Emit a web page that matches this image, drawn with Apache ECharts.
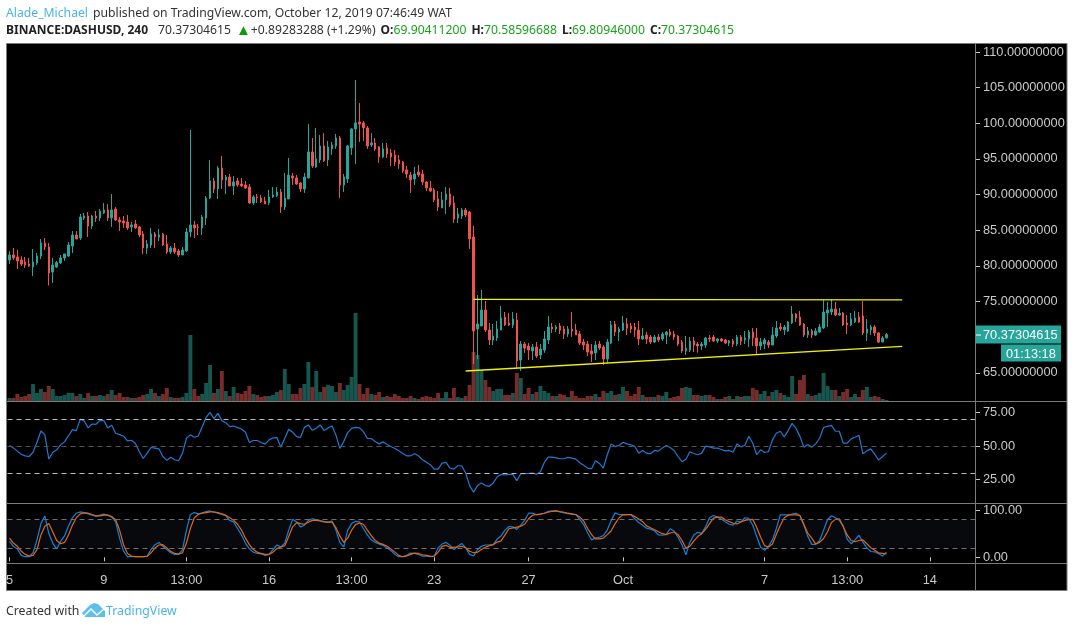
<!DOCTYPE html>
<html>
<head>
<meta charset="utf-8">
<title>DASHUSD</title>
<script src="https://cdn.jsdelivr.net/npm/echarts@6/dist/echarts.min.js"></script>
<style>
  html, body { margin: 0; padding: 0; background: #fff; }
  #chart { width: 1073px; height: 628px; }
</style>
</head>
<body>
<div id="chart"></div>
<script>
// open, close, low, high per 4h candle
const candles = [
  [80.83,81.53,80.27,82.04],[81.53,81.11,80.83,82.51],[81.25,80.69,79.57,82.23],[80.83,80.27,79.99,81.34],[80.55,80.13,79.71,81.25],
  [80.27,79.99,79.85,81.11],[79.85,80.55,78.58,82.37],[80.41,81.39,80.13,81.81],[81.39,83.21,80.97,83.77],[83.21,82.65,82.23,83.91],
  [82.65,79.00,77.23,83.21],[79.14,80.13,77.60,81.11],[79.85,80.46,79.71,80.69],[80.41,81.11,80.27,81.53],[81.11,81.67,80.69,81.67],
  [81.39,82.93,81.25,83.35],[82.79,84.33,81.81,84.89],[84.33,83.77,83.77,84.89],[83.91,86.86,83.63,87.28],[86.72,87.00,86.44,87.42],
  [87.00,85.60,84.05,87.56],[85.60,87.00,85.18,87.14],[87.00,86.72,86.16,87.70],[86.72,87.70,86.30,87.98],[87.42,87.84,87.28,88.82],
  [87.84,86.72,86.30,88.68],[86.72,87.84,85.46,90.08],[87.98,86.44,86.30,88.26],[86.44,86.16,84.89,86.86],[86.30,86.02,85.32,87.00],
  [86.16,85.32,85.03,87.14],[85.46,85.74,84.75,86.16],[85.88,85.32,85.18,86.44],[85.46,84.33,84.05,85.60],[84.47,82.51,81.67,84.89],
  [82.51,83.07,81.67,83.63],[82.93,84.47,82.51,85.32],[84.47,84.05,82.51,84.75],[84.05,84.33,83.49,85.18],[84.47,82.93,82.79,84.61],
  [83.07,81.95,81.67,84.33],[81.95,82.51,81.67,82.79],[82.51,81.95,81.67,83.21],[82.09,81.53,81.25,82.37],[81.53,82.23,81.53,82.65],
  [82.09,84.75,81.95,85.32],[84.75,85.74,84.05,99.06],[85.74,85.32,83.91,86.30],[85.46,85.41,84.33,85.88],[85.32,86.86,84.33,87.14],
  [86.72,89.52,85.74,89.80],[89.52,91.91,89.38,94.85],[91.91,90.79,90.22,92.33],[90.79,93.73,89.38,94.01],[93.73,92.05,90.79,95.41],
  [92.05,92.47,90.08,92.75],[92.47,91.21,91.21,92.89],[91.21,91.77,89.94,92.61],[91.91,91.35,91.07,92.33],[91.49,91.21,91.07,92.33],
  [91.35,90.93,90.79,91.91],[91.07,88.82,88.68,91.49],[88.83,89.67,88.55,89.95],[89.67,89.57,88.83,90.09],[89.53,88.97,88.83,89.95],
  [89.11,88.69,88.69,89.67],[88.83,89.67,88.55,90.65],[89.67,89.95,89.53,91.07],[89.81,90.37,89.67,91.07],[90.37,88.27,87.42,90.79],
  [88.27,89.53,87.84,93.03],[89.39,92.75,89.39,95.14],[92.61,92.33,91.35,93.03],[92.33,91.49,91.35,92.75],[91.63,90.79,90.37,91.77],
  [90.79,92.47,90.23,93.03],[92.33,95.98,92.33,99.91],[95.98,94.02,93.74,97.94],[93.88,95.00,93.74,99.35],[94.86,96.82,94.44,98.36],
  [96.82,94.72,94.58,98.64],[94.86,96.68,94.02,97.52],[96.40,96.96,95.56,97.38],[96.82,97.94,96.40,98.50],[97.94,91.35,89.53,98.22],
  [91.35,92.47,90.37,92.89],[92.19,96.82,91.63,96.96],[96.54,99.21,95.56,99.35],[99.21,100.05,94.28,106.08],[100.19,99.91,97.38,102.85],
  [100.05,99.35,97.52,100.33],[99.35,96.82,96.40,99.63],[96.96,97.24,96.68,98.64],[97.24,96.40,96.12,97.94],[96.68,95.28,94.44,96.82],
  [95.28,96.40,95.14,97.24],[96.54,95.70,95.14,97.24],[95.84,95.28,94.02,96.40],[95.56,94.58,94.02,96.26],[94.86,94.30,93.60,95.56],
  [94.58,93.31,93.03,94.72],[93.46,92.89,92.33,94.02],[92.75,92.05,90.23,93.17],[92.19,92.89,91.35,93.88],[93.17,92.75,92.47,94.16],
  [92.89,91.77,91.35,93.46],[91.77,90.93,90.51,91.91],[90.93,90.51,90.37,91.91],[90.65,89.25,88.97,90.93],[89.39,88.27,87.70,90.51],
  [88.13,89.25,88.13,90.37],[89.25,90.09,87.28,91.07],[90.09,88.55,88.27,90.93],[88.83,86.58,86.02,89.81],[86.72,87.28,86.02,88.13],
  [87.00,87.84,86.58,88.13],[87.84,87.14,86.86,88.13],[87.56,83.78,82.38,87.70],[84.06,70.87,66.25,85.60],[71.15,71.85,66.94,75.92],
  [71.57,73.81,71.57,76.62],[73.81,71.01,70.73,75.07],[71.01,69.61,68.90,71.99],[69.61,70.17,68.90,71.85],[69.89,71.15,69.47,72.27],
  [71.01,72.69,71.01,74.37],[72.83,71.71,71.57,73.53],[71.99,71.71,71.57,73.39],[71.71,72.55,71.29,73.53],[72.41,66.66,65.68,73.39],
  [66.80,69.04,65.26,69.47],[69.04,68.48,67.80,69.32],[68.76,68.20,66.80,69.18],[68.06,68.62,66.80,69.04],[68.62,67.36,67.08,69.32],
  [67.50,68.34,66.94,69.04],[68.20,69.75,67.80,70.87],[69.61,71.43,69.04,72.97],[71.43,71.15,70.59,71.99],[71.15,71.43,70.73,71.71],
  [71.57,71.01,70.45,71.99],[71.15,70.45,69.75,71.57],[70.45,71.15,70.03,71.57],[71.15,70.87,70.03,73.53],[71.01,70.31,70.31,71.85],
  [70.45,69.18,68.90,70.87],[69.32,68.90,68.20,69.75],[69.04,67.92,67.36,69.47],[68.06,67.64,66.52,69.04],[67.78,68.90,66.80,69.47],
  [69.04,68.48,68.20,69.47],[68.62,66.94,66.10,68.90],[66.94,69.32,66.38,69.75],[69.18,71.71,69.04,72.27],[71.85,70.73,70.17,72.27],
  [70.73,71.15,69.47,71.43],[71.01,71.99,70.87,72.97],[71.85,71.29,70.31,72.69],[71.57,71.15,70.59,71.99],[71.43,71.01,70.03,71.99],
  [71.01,69.75,68.90,72.27],[69.75,70.17,69.61,71.29],[70.31,69.75,69.04,70.73],[70.03,69.32,69.04,70.31],[69.32,70.03,69.18,70.31],
  [70.03,69.61,69.32,70.45],[69.75,70.45,69.47,70.73],[70.31,70.73,69.04,70.87],[70.73,70.31,70.03,71.15],[70.45,70.03,69.61,70.87],
  [70.17,69.04,68.76,70.31],[69.32,68.06,67.78,69.61],[68.06,68.48,67.50,70.17],[68.20,69.47,67.92,70.03],[69.47,68.90,67.92,70.03],
  [69.04,68.76,67.83,69.32],[68.76,69.04,68.20,69.32],[68.90,69.89,68.48,70.03],[69.89,69.75,69.32,70.31],[70.03,69.47,69.32,70.31],
  [69.47,69.75,69.18,69.89],[69.75,69.47,69.32,69.89],[69.61,69.18,69.04,69.75],[69.18,69.47,68.76,69.61],[69.47,69.04,68.62,69.75],
  [69.04,70.03,68.76,70.31],[70.03,69.47,68.90,70.31],[69.61,69.89,69.04,70.87],[69.75,70.73,68.62,71.01],[70.73,69.89,68.76,71.29],
  [69.89,68.76,67.50,71.29],[68.76,69.32,68.20,69.89],[69.04,69.61,68.34,69.89],[69.32,68.90,68.48,69.61],[68.90,70.31,68.90,71.43],
  [70.17,71.29,69.89,72.27],[71.43,71.15,70.87,71.99],[71.01,71.43,70.31,71.71],[70.87,72.13,70.73,72.27],[71.99,73.25,71.85,74.37],
  [73.25,72.69,72.13,73.39],[72.83,71.71,71.57,73.67],[71.85,70.31,70.03,71.99],[70.31,70.87,69.89,71.43],[70.87,70.31,69.89,71.15],
  [70.31,70.87,70.17,71.29],[70.73,71.43,70.59,71.85],[71.29,73.53,71.15,75.21],[73.39,73.81,71.43,74.93],[73.53,73.95,73.11,75.35],
  [73.95,73.11,72.97,74.93],[73.11,73.35,72.97,74.09],[73.39,71.71,71.57,73.53],[71.99,71.71,70.45,73.11],[71.71,72.55,71.57,73.39],
  [72.13,72.69,71.99,73.67],[72.83,72.13,71.99,73.53],[72.97,70.59,70.31,75.07],[70.59,71.15,69.47,72.55],[71.01,71.43,70.31,71.71],
  [71.43,70.59,70.17,71.71],[70.59,69.32,69.18,70.73],[69.32,69.89,69.32,70.17],[69.904112,70.37304615,69.80946,70.58596688]
];
// volume, relative units (no scale shown in the picture)
const volumes = [
  3,3,7,4,5,7,17,8,12,9, 15,12,5,5,6,8,8,5,7,3, 8,5,5,6,5,7,11,6,8,4, 4,3,3,4,6,7,12,8,5,7,
  13,4,3,3,4,8,66,12,5,7, 18,36,8,12,30,10,5,14,8,7, 10,15,7,6,4,5,5,6,9,11, 32,17,7,7,13,17,39,14,30,9,
  14,16,15,9,18,11,16,24,88,17, 7,13,7,6,9,4,5,4,7,5, 3,3,5,3,2,4,5,4,3,8, 3,9,3,13,4,3,5,16,49,46,
  31,21,14,10,12,12,6,6,8,28, 23,7,13,7,9,15,10,8,5,5, 7,6,4,10,5,3,3,5,5,7, 4,10,8,10,6,7,14,10,5,7,
  14,6,4,4,4,6,5,9,3,4, 5,13,14,13,6,6,5,6,6,4, 2,2,4,5,2,5,4,5,5,13, 11,7,10,5,9,11,8,6,4,25,
  7,21,26,7,5,6,8,28,15,11, 11,5,9,12,4,7,4,11,14,4, 5,4,2,1
];
const rsi = [
  50.5,48.7,46.3,44.0,42.8,42.3,45.5,52.9,61.3,58.6, 40.4,45.3,47.3,51.0,53.2,57.6,62.3,61.6,70.0,68.7,
  63.6,66.5,66.3,69.2,69.0,63.6,65.5,59.6,58.6,57.4, 53.9,54.4,52.2,46.0,40.8,44.8,49.0,48.5,48.0,42.3,
  39.4,41.8,39.9,39.1,44.8,55.9,58.4,56.6,57.6,64.5, 71.5,75.2,70.5,74.4,69.0,67.5,64.5,65.0,63.8,62.8,
  60.4,52.7,54.2,54.2,52.7,51.5,54.7,56.2,56.4,49.2, 55.9,62.6,60.4,57.1,56.6,64.0,65.8,61.8,63.3,65.8,
  61.6,63.6,65.0,58.4,48.3,53.4,60.1,63.3,64.0,63.6, 60.8,55.7,55.7,53.4,51.7,53.2,51.2,49.7,48.3,46.5,
  44.5,42.8,42.8,44.3,42.8,39.9,38.1,36.2,32.9,32.9, 37.4,37.9,33.7,32.9,35.4,35.4,30.0,20.6,15.7,20.6,
  22.6,20.6,20.1,22.6,27.0,29.0,28.5,29.0,29.0,24.3, 29.5,29.5,29.7,30.0,29.0,31.0,37.9,41.8,41.8,41.3,
  40.6,40.6,41.6,41.1,40.3,37.6,35.7,33.7,33.2,39.1, 37.1,33.7,43.6,51.7,49.7,50.5,52.9,51.7,51.0,49.7,
  44.8,46.8,44.8,44.3,46.8,46.3,48.7,50.5,49.0,46.8, 42.3,38.4,40.3,45.8,44.5,43.6,44.8,50.0,49.5,48.5,
  48.5,47.5,46.5,46.8,45.5,51.7,49.5,50.7,57.4,52.2, 43.6,47.3,45.3,46.0,54.7,59.6,61.1,56.9,61.6,67.0,
  63.3,57.1,49.2,51.2,49.2,51.7,55.9,64.0,64.8,65.5, 61.1,61.1,52.2,52.2,55.4,56.6,58.1,44.3,46.5,48.0,
  44.0,39.6,42.3,44.8
];
const stochK = [
  33.8,23.4,17.9,4.1,1.3,1.3,9.6,37.2,71.7,88.3, 51.0,30.3,17.9,33.8,45.5,66.2,84.1,93.8,96.5,95.2,
  92.4,89.6,86.9,89.6,91.7,89.6,85.5,75.2,40.7,13.0, 1.3,1.3,1.3,1.3,1.3,2.7,16.5,26.9,31.7,23.4,
  16.5,9.6,6.2,6.2,16.5,57.9,91.0,95.2,92.4,94.5, 97.2,98.6,95.9,93.8,91.0,88.3,78.6,75.2,61.4,47.6,
  30.3,17.9,11.0,8.2,7.5,4.1,6.2,16.5,26.2,22.0, 30.3,57.9,80.7,75.2,64.8,68.3,78.6,82.0,80.0,77.9,
  75.8,75.2,77.2,57.9,31.7,22.0,57.9,71.7,76.5,75.2, 61.4,47.6,37.2,31.7,28.2,25.5,20.0,14.4,6.2,1.3,
  1.3,4.1,8.9,8.2,6.2,2.7,2.7,1.3,2.7,20.0, 28.2,31.7,25.5,16.5,23.4,29.6,20.0,6.2,2.7,16.5,
  23.4,26.2,26.2,26.9,38.6,45.5,57.9,65.5,64.8,59.3, 68.3,78.6,93.8,93.8,91.0,91.7,93.8,97.9,98.6,98.6,
  96.5,94.5,93.1,91.7,91.0,80.7,69.6,52.4,37.2,40.7, 42.7,46.2,57.9,78.6,94.5,91.0,91.0,91.0,91.0,82.0,
  73.8,68.3,62.0,60.0,56.5,47.6,46.9,48.9,60.7,55.8, 42.7,26.9,5.5,31.7,47.6,53.1,51.0,64.8,84.1,89.0,
  85.5,81.4,75.8,70.3,68.3,77.2,75.2,84.1,82.7,68.3, 44.1,21.3,15.1,23.4,37.2,61.4,90.3,90.3,90.3,91.7,
  93.8,88.3,68.3,44.1,27.5,27.5,35.8,57.9,80.0,88.3, 84.1,78.6,66.2,38.6,28.9,37.2,46.9,32.4,20.0,12.4,
  11.7,7.5,2.7,11.0
];
const stochD = [
  40.7,30.3,23.4,13.0,6.2,2.7,4.1,16.5,47.6,66.2, 71.7,54.5,35.8,28.9,31.7,47.6,68.3,84.1,92.4,94.5,
  93.8,91.0,88.3,88.3,89.6,89.6,86.9,80.0,57.9,26.9, 8.2,2.7,1.3,1.3,1.3,2.0,9.6,20.0,26.2,26.9,
  20.0,13.0,8.2,6.8,9.6,30.3,61.4,84.1,91.0,93.8, 95.2,96.5,96.5,95.2,92.4,89.6,84.1,78.6,70.3,57.9,
  40.7,26.9,16.5,11.0,8.2,6.2,6.2,11.0,18.6,22.0, 24.8,44.1,64.8,73.8,71.7,70.3,74.5,78.6,78.6,77.2,
  75.2,74.5,75.2,63.4,45.5,31.7,40.7,57.9,69.6,73.1, 70.3,57.9,46.2,35.8,30.3,27.5,23.4,17.9,11.0,4.1,
  1.3,2.7,6.2,8.9,8.2,5.5,4.1,2.0,2.7,11.0, 23.4,25.5,21.3,21.3,22.0,23.4,20.0,13.0,9.6,11.0,
  16.5,21.3,24.8,26.9,32.4,35.1,47.6,60.7,62.7,64.1, 66.2,70.3,82.0,89.6,91.0,91.7,93.8,95.9,97.9,98.6,
  97.2,95.9,93.8,92.4,91.0,85.5,77.2,61.4,48.2,39.3, 39.3,40.7,48.2,56.5,71.7,84.1,90.3,91.0,91.0,86.9,
  81.4,75.8,66.9,62.7,58.6,54.5,50.3,48.2,51.7,53.8, 48.2,35.8,20.0,23.4,34.4,44.1,50.3,59.3,71.7,83.4,
  85.5,85.5,80.0,75.8,72.4,71.0,75.2,78.6,80.0,80.7, 63.4,42.7,24.8,22.0,28.2,48.9,68.3,84.1,89.6,90.3,
  90.3,89.0,69.6,51.0,40.7,28.2,31.7,40.0,54.5,73.8, 80.7,82.0,64.8,47.6,35.8,33.1,35.8,37.2,28.9,20.6,
  15.1,9.6,8.2,7.5
];
const trendTop = [[118, 75.29], [226.5, 75.22]];
const trendBottom = [[116, 65.26], [226.5, 68.72]];
const priceTicks = [65, 70, 75, 80, 85, 90, 95, 100, 105, 110];
const rsiTicks = [25, 50, 75];
const stochTicks = [0, 100];
const rsiLevels = [70, 50, 30];
const stochLevels = [80, 20];
const tickIndexes = [0, 24, 45, 66, 87, 108, 132, 156, 192, 213, 234];
const tickLabels = ['5', '9', '13:00', '16', '13:00', '23', '27', 'Oct', '7', '13:00', '14'];
const slotCount = 246; // empty room right of the last candle
const categories = [];
for (let i = 0; i < slotCount; i++) categories.push(String(i));

const fontName = '"Liberation Sans", Arial, sans-serif';
const headFont = '"Noto Sans", sans-serif';
const upColor = '#26a69a';
const downColor = '#ef5350';
const axisText = '#c9c9c9';
const frameColor = '#7b7b7b';
const panelRight = 1067;
const lastClose = candles[candles.length - 1][1];

function hLevels(levels, colorOf) {
  return {
    silent: true,
    symbol: 'none',
    label: { show: false },
    data: levels.map(v => ({ yAxis: v, lineStyle: { color: colorOf(v), type: [5, 4], width: 1 } }))
  };
}
function hiddenX(gridIndex) {
  return { type: 'category', gridIndex, data: categories, show: false };
}
function sideAxis(gridIndex, min, max, ticks, digits) {
  return {
    type: 'value', gridIndex, position: 'right', min, max, scale: true,
    splitLine: { show: false },
    axisLine: { show: true, onZero: false, lineStyle: { color: frameColor } },
    axisTick: { show: true, length: 5, customValues: ticks, lineStyle: { color: axisText } },
    axisLabel: {
      customValues: ticks, color: axisText, fontFamily: fontName, fontSize: 12.8, margin: 8,
      padding: [3, 0, 0, 0],
      formatter: v => v.toFixed(digits)
    }
  };
}
function headStyle(color, size, weight) {
  return { color, fontFamily: headFont, fontSize: size, fontWeight: weight || 'normal' };
}

const chart = echarts.init(document.getElementById('chart'));
const option = {
  animation: false,
  backgroundColor: '#fff',
  title: [
    {
      left: 6, top: 5, padding: 0,
      text: '{who|Alade_Michael} {txt|published on TradingView.com, October 12, 2019 07:46:49 WAT}',
      textStyle: { rich: {
        who: headStyle('#4cb4e7', 12.2),
        txt: headStyle('#333', 12.2)
      } }
    },
    {
      left: 6, top: 22, padding: 0,
      text: '{b|BINANCE:DASHUSD, 240}  {txt|70.37304615} {up|▲}{txt|+0.89283288 (+1.29%)} {b|O:}{g|69.90411200} {b|H:}{g|70.58596688} {b|L:}{g|69.80946000} {b|C:}{g|70.37304615}',
      textStyle: { rich: {
        b: headStyle('#222', 12, 'bold'),
        txt: headStyle('#333', 12.2),
        up: headStyle('#0a9a0a', 15),
        g: headStyle('#1aa31a', 12.2)
      } }
    }
  ],
  grid: [
    { left: 7.5, width: 967.5, top: 43.5, height: 357.5 },
    { left: 7.5, width: 967.5, top: 402, height: 101 },
    { left: 7.5, width: 967.5, top: 504, height: 59 }
  ],
  xAxis: [
    hiddenX(0),
    hiddenX(1),
    {
      type: 'category', gridIndex: 2, data: categories,
      axisLine: { show: false },
      axisTick: { show: true, alignWithLabel: true, length: 4, interval: i => tickIndexes.includes(i), lineStyle: { color: axisText } },
      axisLabel: {
        color: axisText, fontFamily: fontName, fontSize: 12.8, margin: 11, hideOverlap: false,
        interval: i => tickIndexes.includes(i),
        formatter: (v, i) => tickLabels[tickIndexes.indexOf(i)]
      }
    }
  ],
  yAxis: [
    sideAxis(0, 61.05, 111.19, priceTicks, 8),
    { type: 'value', gridIndex: 0, min: 0, max: 357.5, show: false },
    sideAxis(1, 7.65, 82.9, rsiTicks, 2),
    sideAxis(2, -12.1, 113.4, stochTicks, 2)
  ],
  series: [
    {
      name: 'Volume', type: 'bar', xAxisIndex: 0, yAxisIndex: 1, z: 1,
      barWidth: '100%',
      data: volumes,
      itemStyle: { color: p => candles[p.dataIndex][1] >= candles[p.dataIndex][0] ? '#17564f' : '#772c2c' }
    },
    {
      name: 'DASHUSD', type: 'candlestick', xAxisIndex: 0, yAxisIndex: 0, z: 3,
      barWidth: 2,
      data: candles,
      itemStyle: { color: upColor, color0: downColor, borderColor: upColor, borderColor0: downColor, borderWidth: 1 }
    },
    {
      name: 'Top', type: 'line', xAxisIndex: 0, yAxisIndex: 0, z: 4, symbol: 'none',
      data: trendTop, lineStyle: { color: '#f2f200', width: 1.3 }
    },
    {
      name: 'Bottom', type: 'line', xAxisIndex: 0, yAxisIndex: 0, z: 4, symbol: 'none',
      data: trendBottom, lineStyle: { color: '#f2f200', width: 1.3 }
    },
    {
      name: 'RSI', type: 'line', xAxisIndex: 1, yAxisIndex: 2, symbol: 'none',
      data: rsi, lineStyle: { color: '#1f7ad1', width: 1.2 },
      markLine: hLevels(rsiLevels, v => v === 50 ? '#555' : '#bdbdbd')
    },
    {
      name: '%K', type: 'line', xAxisIndex: 2, yAxisIndex: 3, symbol: 'none', z: 3,
      data: stochK, lineStyle: { color: '#0a84e3', width: 1.2 },
      markLine: hLevels(stochLevels, () => '#6f6f6f'),
      markArea: {
        silent: true,
        itemStyle: { color: '#08090d' },
        data: [[{ yAxis: stochLevels[0] }, { yAxis: stochLevels[1] }]]
      }
    },
    {
      name: '%D', type: 'line', xAxisIndex: 2, yAxisIndex: 3, symbol: 'none', z: 4,
      data: stochD, lineStyle: { color: '#e8650f', width: 1.2 }
    }
  ],
  graphic: [
    // black panel behind the panes, with the pane separators
    { type: 'rect', z: -10, silent: true, shape: { x: 6.5, y: 43.5, width: panelRight - 6.5, height: 547 }, style: { fill: '#000', stroke: frameColor, lineWidth: 1 } },
    { type: 'line', z: 10, silent: true, shape: { x1: 7, y1: 401.5, x2: panelRight, y2: 401.5 }, style: { stroke: frameColor } },
    { type: 'line', z: 10, silent: true, shape: { x1: 7, y1: 503.5, x2: panelRight, y2: 503.5 }, style: { stroke: frameColor } },
    { type: 'line', z: 10, silent: true, shape: { x1: 7, y1: 563.5, x2: panelRight, y2: 563.5 }, style: { stroke: frameColor } },
    { type: 'line', z: 10, silent: true, shape: { x1: 975.5, y1: 43, x2: 975.5, y2: 591 }, style: { stroke: frameColor } },
    // footer
    { type: 'text', left: 6, top: 605, style: { text: 'Created with', fill: '#333', font: '12.3px ' + headFont } },
    { type: 'polygon', silent: true, shape: { points: [[82, 613], [90, 605], [94, 603], [98, 604], [102, 608], [105, 611], [105, 617], [85, 617]] }, style: { fill: '#5cc0ea' } },
    { type: 'polyline', silent: true, shape: { points: [[84, 616], [91, 609], [97, 615], [104, 609]] }, style: { stroke: '#fff', lineWidth: 1.5, fill: null } },
    { type: 'text', left: 106, top: 605, style: { text: 'TradingView', fill: '#4cb4e7', font: '12.3px ' + headFont } }
  ]
};
chart.setOption(option);

// last price tag and countdown hang off the price scale
const tagY = chart.convertToPixel({ yAxisIndex: 0 }, lastClose);
chart.setOption({
  graphic: option.graphic.concat([
    { type: 'rect', z: 20, silent: true, shape: { x: 976, y: tagY - 9, width: 85, height: 18 }, style: { fill: upColor } },
    { type: 'line', z: 21, silent: true, shape: { x1: 976, y1: tagY + 0.5, x2: 981, y2: tagY + 0.5 }, style: { stroke: '#fff' } },
    { type: 'text', z: 21, x: 983, y: tagY - 6, style: { text: lastClose.toFixed(8), fill: '#fff', font: '12.8px ' + fontName } },
    { type: 'rect', z: 20, silent: true, shape: { x: 1001, y: tagY + 10, width: 60, height: 17 }, style: { fill: upColor } },
    { type: 'text', z: 21, x: 1006, y: tagY + 13, style: { text: '01:13:18', fill: '#fff', font: '12.8px ' + fontName } }
  ])
});
</script>
</body>
</html>
